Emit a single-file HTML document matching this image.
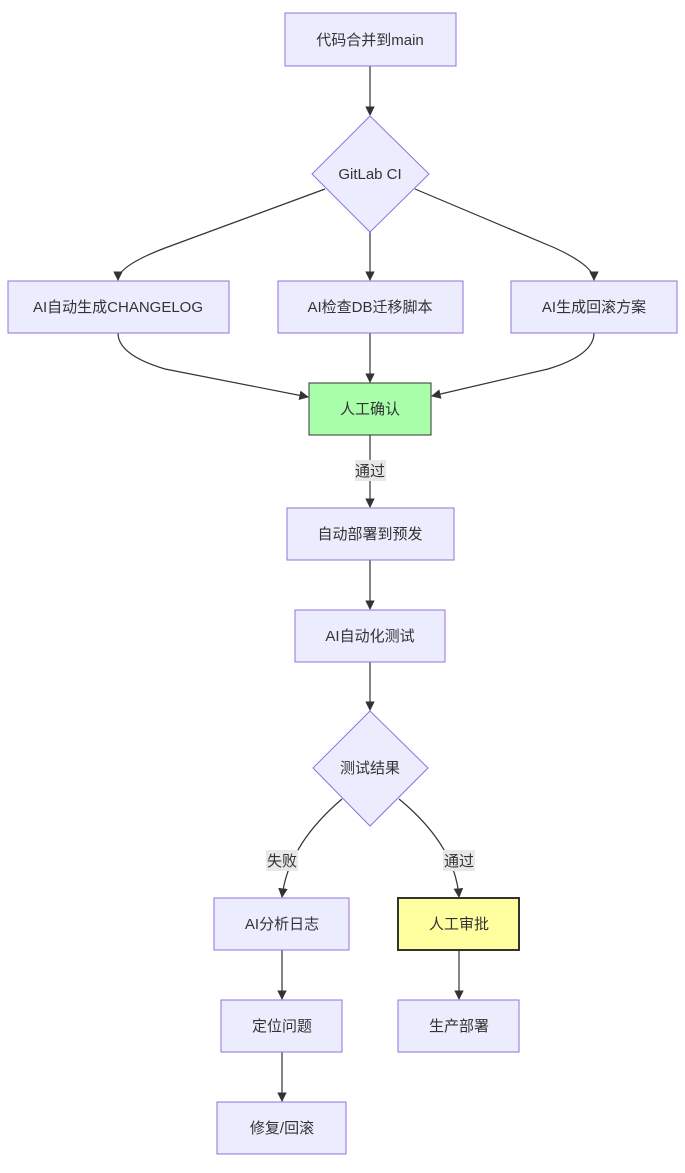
<!DOCTYPE html>
<html><head><meta charset="utf-8"><style>
html,body{margin:0;padding:0;background:#fff;}
text{font-family:"Liberation Sans","Noto Sans CJK SC",sans-serif;font-size:15px;fill:#333;}
.n{fill:#ececff;stroke:#9370db;stroke-width:1;}
.e{fill:none;stroke:#333;stroke-width:1.2;}
</style></head><body>
<svg width="685" height="1168" viewBox="0 0 685 1168" xmlns="http://www.w3.org/2000/svg">
<defs><marker id="a" viewBox="0 0 10 10" refX="9" refY="5" markerWidth="8" markerHeight="8" orient="auto"><path d="M0,0L10,5L0,10z" fill="#333"/></marker></defs>
<g class="e" marker-end="url(#a)">
<path d="M370,66 L370,115"/>
<path d="M325,189 L165,248 Q118,266 118,280"/>
<path d="M370,232 L370,280"/>
<path d="M415,189 L555,248 Q594,266 594,280"/>
<path d="M118,333 Q118,355 165,369 L308,397"/>
<path d="M370,333 L370,382"/>
<path d="M594,333 Q594,355 548,369 L432,396"/>
<path d="M370,435 L370,507"/>
<path d="M370,560 L370,609"/>
<path d="M370,662 L370,710"/>
<path d="M342,799 Q288,845 282,897"/>
<path d="M399,799 Q455,845 459,897"/>
<path d="M282,950 L282,999"/>
<path d="M459,950 L459,999"/>
<path d="M282,1052 L282,1101"/>
</g>
<rect class="n" x="285" y="13" width="171" height="53"/><text x="370" y="45" text-anchor="middle">代码合并到main</text>
<polygon class="n" points="370,116 429,174 370,232 312,174"/><text x="370" y="179" text-anchor="middle">GitLab CI</text>
<rect class="n" x="8" y="281" width="221" height="52"/><text x="118" y="312" text-anchor="middle">AI自动生成CHANGELOG</text>
<rect class="n" x="278" y="281" width="185" height="52"/><text x="370" y="312" text-anchor="middle">AI检查DB迁移脚本</text>
<rect class="n" x="511" y="281" width="166" height="52"/><text x="594" y="312" text-anchor="middle">AI生成回滚方案</text>
<rect x="309" y="383" width="122" height="52" fill="#a9fea9" stroke="#333" stroke-width="1"/><text x="370" y="414" text-anchor="middle">人工确认</text>
<rect x="355" y="460" width="31" height="21" fill="#e8e8e8"/><text x="370" y="476" text-anchor="middle">通过</text>
<rect class="n" x="287" y="508" width="167" height="52"/><text x="370" y="539" text-anchor="middle">自动部署到预发</text>
<rect class="n" x="295" y="610" width="150" height="52"/><text x="370" y="641" text-anchor="middle">AI自动化测试</text>
<polygon class="n" points="370,711 428,768 370,826 313,768"/><text x="370" y="773" text-anchor="middle">测试结果</text>
<rect x="266" y="850" width="32" height="21" fill="#e8e8e8"/><text x="282" y="866" text-anchor="middle">失败</text>
<rect x="443" y="850" width="32" height="21" fill="#e8e8e8"/><text x="459" y="866" text-anchor="middle">通过</text>
<rect class="n" x="214" y="898" width="135" height="52"/><text x="282" y="929" text-anchor="middle">AI分析日志</text>
<rect x="398" y="898" width="121" height="52" fill="#ffffa0" stroke="#333" stroke-width="2"/><text x="459" y="929" text-anchor="middle">人工审批</text>
<rect class="n" x="221" y="1000" width="121" height="52"/><text x="282" y="1031" text-anchor="middle">定位问题</text>
<rect class="n" x="398" y="1000" width="121" height="52"/><text x="459" y="1031" text-anchor="middle">生产部署</text>
<rect class="n" x="217" y="1102" width="129" height="52"/><text x="282" y="1133" text-anchor="middle">修复/回滚</text>
</svg>
</body></html>
